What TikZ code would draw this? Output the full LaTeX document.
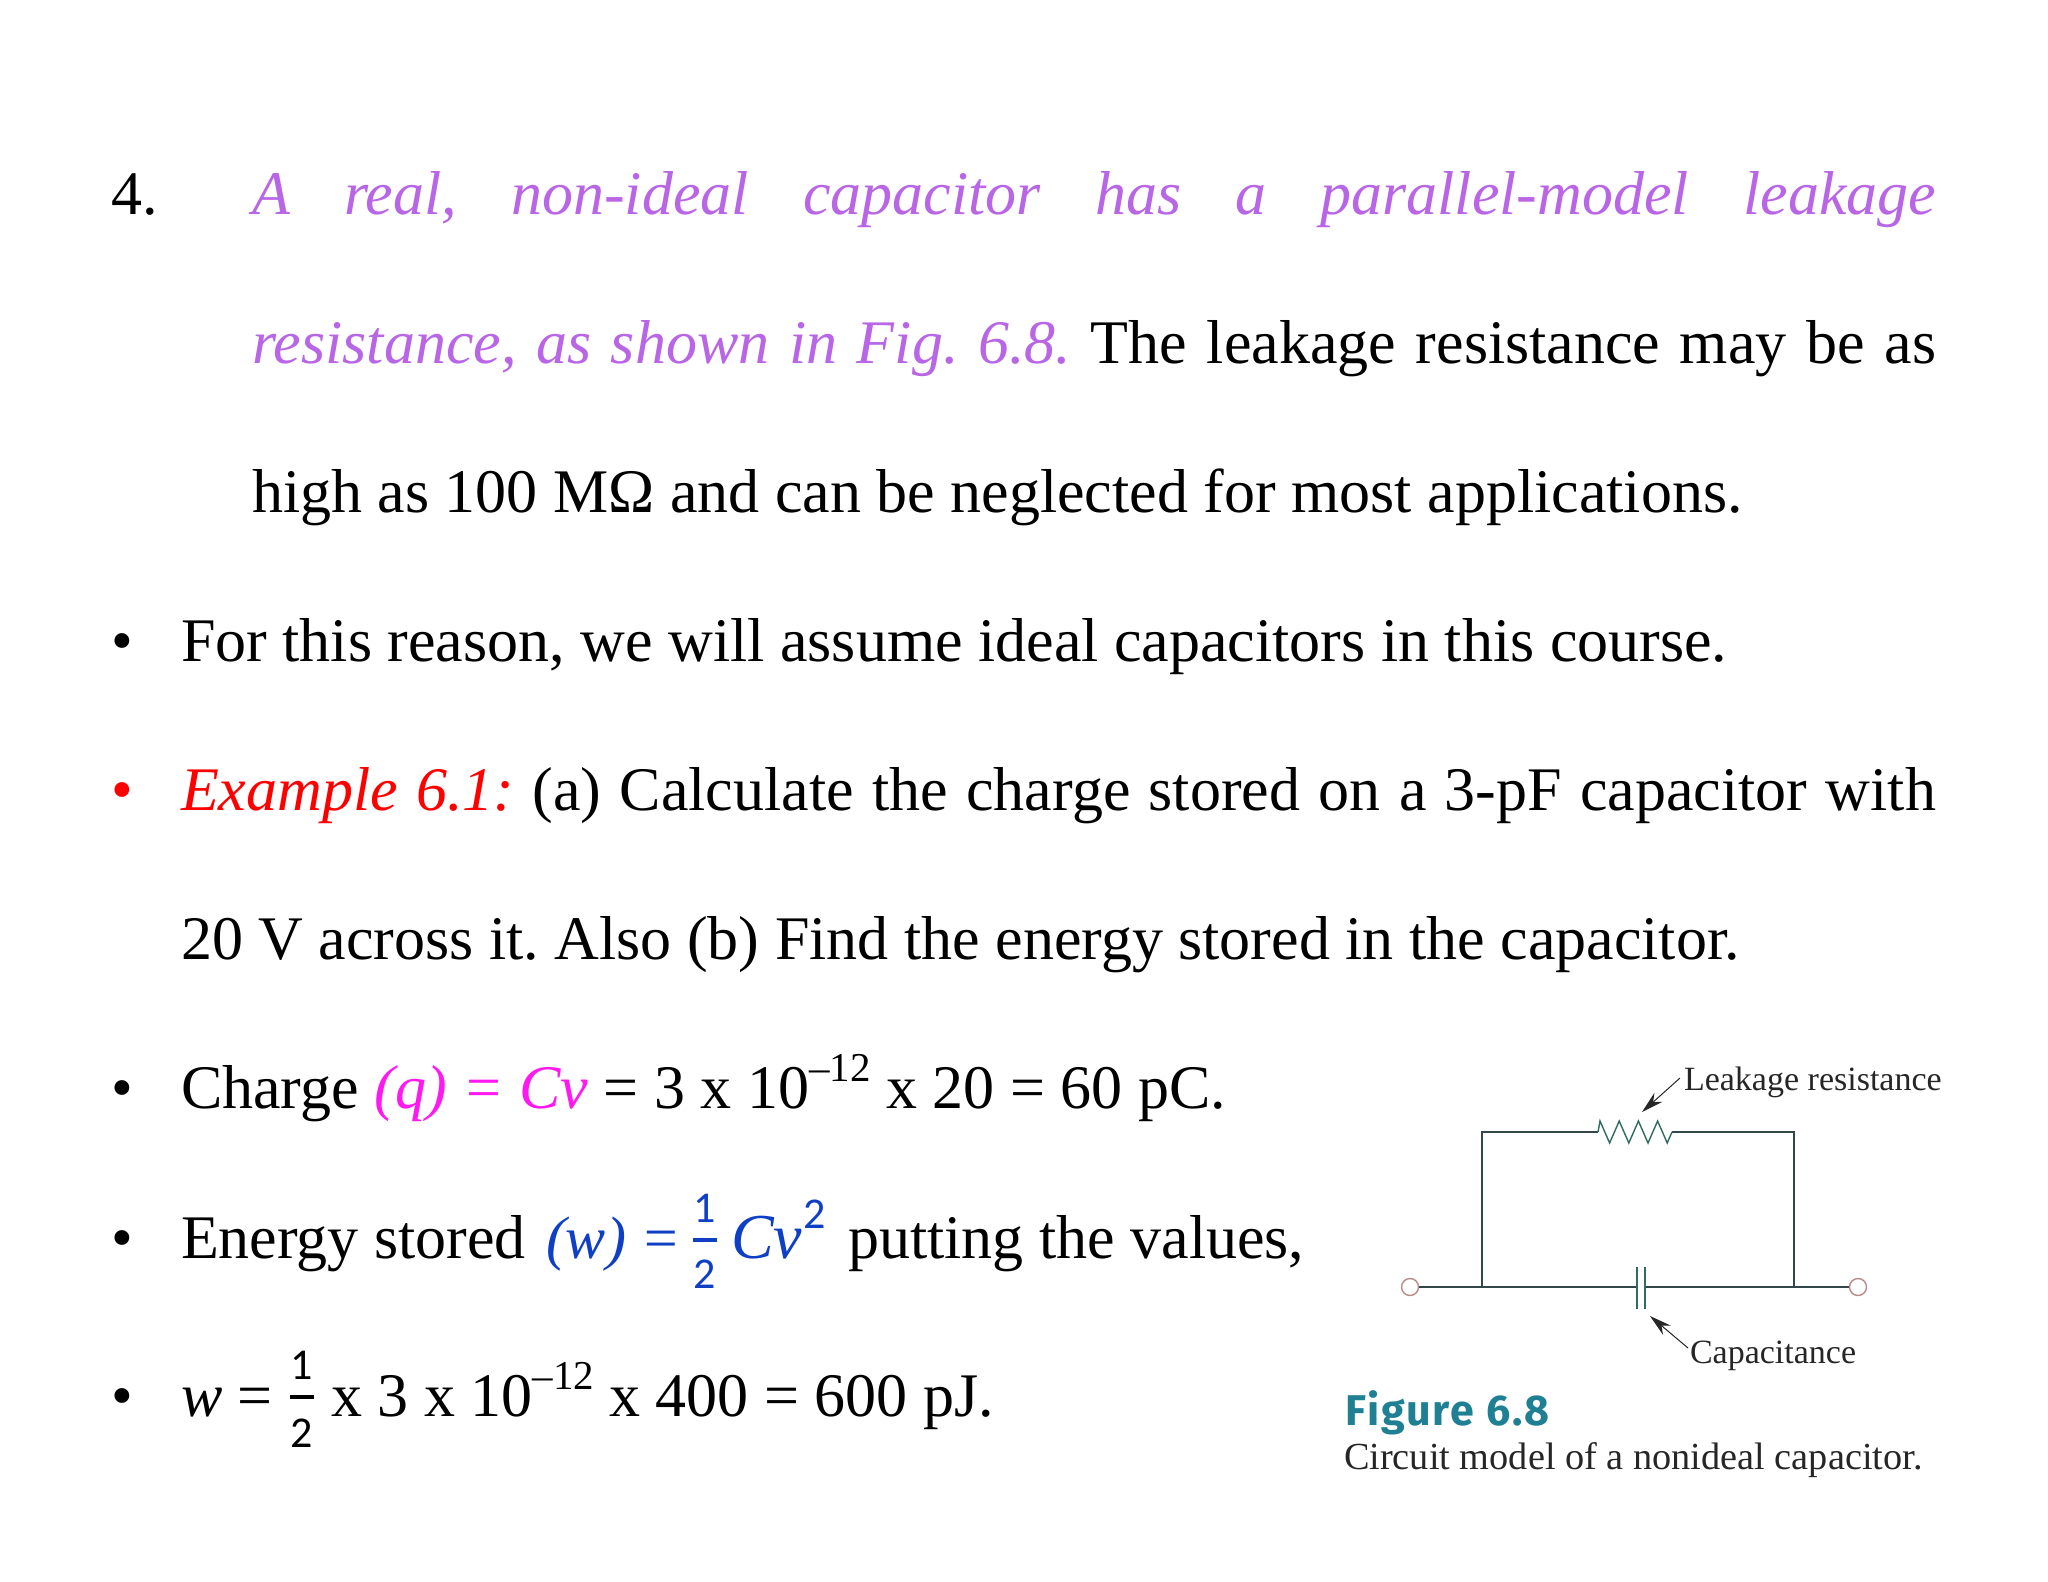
\documentclass[tikz,border=0pt]{standalone}
\usepackage{fontspec}
\usetikzlibrary{arrows.meta,calc}
\setmainfont{Liberation Serif}
\newfontfamily\figfont[LetterSpace=4.5]{Fira Sans}
\newfontfamily\mathfont{Carlito}
\frenchspacing
\definecolor{purp}{HTML}{B866E6}
\definecolor{magen}{HTML}{FF19F0}
\definecolor{blu}{HTML}{0F3FC4}
\definecolor{teal2}{HTML}{1F7F93}
\definecolor{wire}{HTML}{33474A}
\definecolor{resg}{HTML}{2F6B5E}
\definecolor{term}{HTML}{B98A88}
\newcommand{\bodysize}{\fontsize{31pt}{36pt}\selectfont}
\newcommand{\upidx}[1]{\raisebox{0.42em}{\fontsize{20.5pt}{24pt}\selectfont #1}}
\tikzset{
  x=0.5pt,y=-0.5pt,
  txt/.style={anchor=base west,inner sep=0pt,outer sep=0pt,font=\bodysize},
  smalltxt/.style={anchor=base west,inner sep=0pt,outer sep=0pt,font=\fontsize{17pt}{20pt}\selectfont,text=black!85},
  captxt/.style={anchor=base west,inner sep=0pt,outer sep=0pt,font=\fontsize{19.15pt}{23pt}\selectfont,text=black!85},
  dig/.style={anchor=base,inner sep=0pt,outer sep=0pt,font=\fontsize{22pt}{26pt}\selectfont\mathfont},
  wireline/.style={draw=wire,line width=0.9pt},
  termnode/.style={circle,draw=term,fill=white,line width=0.7pt,minimum size=8.5pt,inner sep=0pt},
  lead/.style={draw=black!85,line width=0.5pt,-{Stealth[length=11pt,width=6pt]}},
}
\begin{document}
\begin{tikzpicture}
\useasboundingbox (0,0) rectangle (2048,1582);
% body text
\node[txt] (n4) at (111,215) {4.};
\node[txt,text=purp] (l1) at (252,215) {\makebox[842pt][s]{\itshape A real, non-ideal capacitor has a parallel-model leakage}};
\node[txt] (l2) at (252,364) {\makebox[842pt][s]{\textcolor{purp}{\itshape resistance, as shown in Fig. 6.8.} The leakage resistance may be as}};
\node[txt] (l3) at (252,513) {high as 100 MΩ and can be neglected for most applications.};
\node[txt] (b1) at (111,661) {•};
\node[txt] (l4) at (181,661) {For this reason, we will assume ideal capacitors in this course.};
\node[txt,text=red] (b2) at (111,810) {•};
\node[txt] (l5) at (181,810) {\makebox[877.5pt][s]{\textcolor{red}{\itshape Example 6.1:} (a) Calculate the charge stored on a 3-pF capacitor with}};
\node[txt] (l6) at (181,959) {20 V across it. Also (b) Find the energy stored in the capacitor.};
\node[txt] (b3) at (111,1108) {•};
\node[txt] (l7) at (181,1108) {Charge \textcolor{magen}{\itshape (q) = Cv} = 3 x 10\upidx{–12} x 20 = 60 pC.};
\node[txt] (b4) at (111,1258) {•};
\node[txt] (l8a) at (181,1258) {Energy stored};
\node[txt,text=blu] (l8b) at (546,1258) {\fontsize{30pt}{36pt}\selectfont\itshape (w) =};
\node[dig,text=blu] (f1n) at (705,1222) {1};
\node[dig,text=blu] (f1d) at (705,1288) {2};
\draw[blu,line width=2pt] (693,1240) -- (717,1240);
\node[txt,text=blu] (l8c) at (731,1258) {\fontsize{32pt}{36pt}\selectfont\itshape Cv};
\node[dig,text=blu] (l8e) at (815,1228) {2};
\node[txt] (l8d) at (848,1258) {putting the values,};
\node[txt] (b5) at (111,1416) {•};
\node[txt] (l9a) at (181,1416) {\itshape w\normalfont\ =};
\node[dig] (f2n) at (302,1379) {1};
\node[dig] (f2d) at (302,1447) {2};
\draw[black,line width=2pt] (290,1397) -- (314,1397);
\node[txt] (l9b) at (331,1416) {x 3 x 10\upidx{–12} x 400 = 600 pJ.};
% circuit
\node[termnode] (tl) at (1410,1287) {};
\node[termnode] (tr) at (1858,1287) {};
\coordinate (jl) at (1482,1287);
\coordinate (jr) at (1794,1287);
\coordinate (cl) at (1637,1287);
\coordinate (cr) at (1645,1287);
\coordinate (ctl) at (1482,1132);
\coordinate (ctr) at (1794,1132);
\coordinate (rl) at (1598,1132);
\coordinate (rr) at (1672,1132);
\draw[wireline] (tl) -- (jl) -- (cl);
\draw[wireline] (cr) -- (jr) -- (tr);
\draw[wireline] (jl) -- (ctl) -- (rl);
\draw[wireline] (rr) -- (ctr) -- (jr);
\draw[resg,line width=0.7pt,line join=miter] (rl) -- ++(2,-11) -- ++(9.6,22) -- ++(9.6,-22) -- ++(9.6,22) -- ++(9.6,-22) -- ++(9.6,22) -- ++(9.6,-22) -- ++(9.6,22) -- (rr);
\draw[resg,line width=0.7pt] (1637,1267) -- (1637,1309);
\draw[resg,line width=0.7pt] (1645,1267) -- (1645,1309);
\coordinate (la) at (1680,1078);
\coordinate (lb) at (1642,1112);
\coordinate (ca) at (1688,1348);
\coordinate (cb) at (1650,1316);
\draw[lead] (la) -- (lb);
\draw[lead] (ca) -- (cb);
\node[smalltxt] (lk) at (1684,1090) {Leakage resistance};
\node[smalltxt] (cp) at (1690,1363) {Capacitance};
\node[anchor=base west,inner sep=0pt,text=teal2,font=\fontsize{21.5pt}{25pt}\selectfont\figfont\bfseries] (fg) at (1345,1425) {Figure 6.8};
\node[captxt] (cc) at (1344,1469) {Circuit model of a nonideal capacitor.};
\end{tikzpicture}
\end{document}
